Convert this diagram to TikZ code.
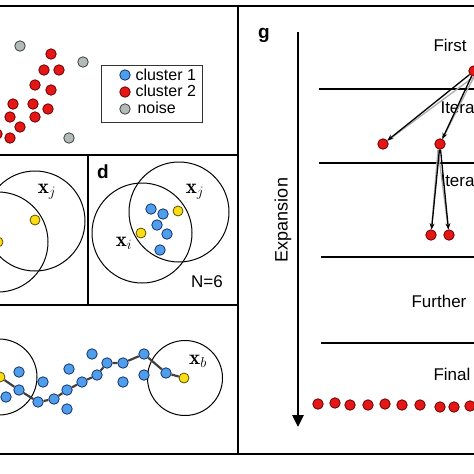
\documentclass[tikz,border=0pt]{standalone}
\usepackage{amsmath,amssymb}
\usepackage{fontspec}
\setsansfont{Liberation Sans}
\usetikzlibrary{arrows.meta,positioning}
\definecolor{redfill}{RGB}{228,22,22}
\definecolor{redline}{RGB}{105,0,0}
\definecolor{bluefill}{RGB}{78,158,236}
\definecolor{blueline}{RGB}{20,48,105}
\definecolor{yelfill}{RGB}{250,222,20}
\definecolor{yelline}{RGB}{95,75,0}
\definecolor{grayfill}{RGB}{178,186,186}
\definecolor{grayline}{RGB}{60,62,62}

\begin{document}
\begin{tikzpicture}[x=1pt,y=-1pt,
  pt/.style={circle,draw,line width=0.8pt,inner sep=0pt,minimum size=10.5pt},
  rpt/.style={pt,fill=redfill,draw=redline},
  bpt/.style={pt,fill=bluefill,draw=blueline},
  ypt/.style={pt,fill=yelfill,draw=yelline,minimum size=10pt},
  gpt/.style={pt,fill=grayfill,draw=grayline},
  frame/.style={line width=1.8pt},
  reach/.style={line width=1pt},
  level/.style={line width=1.4pt},
  lab/.style={font=\sffamily\fontsize{17}{19}\selectfont},
  key/.style={font=\sffamily\fontsize{16}{18}\selectfont},
  tag/.style={font=\sffamily\bfseries\fontsize{19}{21}\selectfont},
  vec/.style={font=\fontsize{21}{23}\selectfont},
  link/.style={-{Stealth[length=6pt,width=5pt]},line width=1.3pt},
  shadow/.style={line width=1.3pt,gray!65}]
\useasboundingbox (0,0) rectangle (474,474);
\clip (0,0) rectangle (474,474);

% panel frames
\draw[frame] (-5,6) -- (238,6) -- (238,454) -- (-5,454);
\draw[frame] (-5,155) -- (238,155);
\draw[frame] (-5,305) -- (238,305);
\draw[frame] (88,155) -- (88,305);
\draw[frame] (480,6) -- (238,6);
\draw[frame] (238,454) -- (480,454);

% top panel
\node[gpt] (n1) at (20,46) {};
\node[gpt] (n2) at (83,62) {};
\node[gpt] (n3) at (69,138) {};
\node[rpt] (r1) at (51,54) {};
\node[rpt] (r2) at (44,70) {};
\node[rpt] (r3) at (59,70) {};
\node[rpt] (r4) at (35,85) {};
\node[rpt] (r5) at (51,90) {};
\node[rpt] (r6) at (13,104) {};
\node[rpt] (r7) at (33,104) {};
\node[rpt] (r8) at (48,109) {};
\node[rpt] (r9) at (10,117) {};
\node[rpt] (r10) at (35,117) {};
\node[rpt] (r11) at (20,127) {};
\node[rpt] (r12) at (10,138) {};
\node[rpt] (r13) at (-3,134) {};

\draw[line width=0.9pt,black!80] (101,65) rectangle (202,122);
\node[bpt] (k1) at (125,75) {};
\node[rpt] (k2) at (125,92) {};
\node[gpt] (k3) at (125,109) {};
\node[key,anchor=west] (t1) at (132,75) {cluster 1};
\node[key,anchor=west] (t2) at (132,91) {cluster 2};
\node[key,anchor=west] (t3) at (134,108) {noise};

% middle left panel
\draw[reach] (35,221) circle (50);
\draw[reach] (-2,242) circle (50);
\node[ypt] (xj1) at (35,220) {};
\node[ypt] (xi1) at (-2,242) {};
\node[vec] (lj1) at (47,192) {$\mathbf{x}_j$};

% panel d
\node[tag] (d) at (103,172) {d};
\draw[reach] (142,233) circle (50);
\draw[reach] (179,212) circle (50);
\node[bpt] (c1) at (151,209) {};
\node[bpt] (c2) at (163,214) {};
\node[bpt] (c3) at (157,225) {};
\node[bpt] (c4) at (167,234) {};
\node[bpt] (c5) at (160,250) {};
\node[ypt] (xj2) at (178,211) {};
\node[ypt] (xi2) at (141,233) {};
\node[vec] (lj2) at (195,192) {$\mathbf{x}_j$};
\node[vec] (li2) at (124,243) {$\mathbf{x}_i$};
\node[lab] (count) at (207,282) {N=6};

% bottom left panel
\draw[reach] (-1,377) circle (38);
\draw[reach] (185,378) circle (37.5);
\node[ypt] (xa) at (0,377) {};
\node[bpt] (p1) at (19,390) {};
\node[bpt] (p2) at (38,402) {};
\node[bpt] (p3) at (54,399) {};
\node[bpt] (p4) at (67,390) {};
\node[bpt] (p5) at (82,382) {};
\node[bpt] (p6) at (97,375) {};
\node[bpt] (p7) at (107,363) {};
\node[bpt] (p8) at (123,363) {};
\node[bpt] (p9) at (144,354) {};
\node[bpt] (p10) at (166,373) {};
\node[ypt] (xb) at (184,378) {};
\node[bpt] (q1) at (19,372) {};
\node[bpt] (q2) at (6,397) {};
\node[bpt] (q3) at (43,382) {};
\node[bpt] (q4) at (69,369) {};
\node[bpt] (q5) at (92,354) {};
\node[bpt] (q6) at (67,409) {};
\node[bpt] (q7) at (123,382) {};
\node[bpt] (q8) at (144,375) {};
\draw[line width=2.2pt,black!75] (xa) -- (p1) -- (p2) -- (p3) -- (p4) -- (p5) -- (p6) -- (p7) -- (p8) -- (p9) -- (p10) -- (xb);
\node[vec] (lb) at (198,361) {$\mathbf{x}_b$};

% panel g
\node[tag] (g) at (264,35) {g};
\coordinate (top) at (298,32);
\coordinate (bot) at (298,427);
\draw[line width=2.8pt,-{Triangle[length=12pt,width=11pt]}] (top) -- (bot);
\node[lab,rotate=90,font=\sffamily\fontsize{18}{20}\selectfont] (exp) at (283,220) {Expansion};

\draw[level] (319,89) -- (480,89);
\draw[level] (319,163) -- (480,163);
\draw[level] (321,257) -- (480,257);
\draw[level] (321,343) -- (480,343);

\node[lab,anchor=west] (s1) at (430,45) {First};
\node[lab,anchor=west] (s2) at (437,108) {Itera};
\node[lab,anchor=west] (s3) at (437,181) {Itera};
\node[lab] (s4) at (439,301) {Further};
\node[lab] (s5) at (452,374) {Final};

\node[rpt] (root) at (474,71) {};
\node[rpt] (a1) at (383,144) {};
\node[rpt] (a2) at (440,144) {};
\node[rpt] (b1) at (431,235) {};
\node[rpt] (b2) at (449,235) {};

\draw[shadow] (root.south) -- (a1);
\draw[shadow] (root.south) -- (a2);
\draw[shadow] ([xshift=-2pt]a2.south) -- (b1);
\draw[shadow] ([xshift=-2pt]a2.south) -- (b2);
\draw[link] (root) -- (a1);
\draw[link] (root) -- (a2);
\draw[link] (a2) -- (b1);
\draw[link] (a2) -- (b2);

\node[rpt] (f1) at (318,404) {};
\node[rpt] (f2) at (335,403) {};
\node[rpt] (f3) at (350,405) {};
\node[rpt] (f4) at (368,405) {};
\node[rpt] (f5) at (385,404) {};
\node[rpt] (f6) at (402,405) {};
\node[rpt] (f7) at (420,405) {};
\node[rpt] (f8) at (440,407) {};
\node[rpt] (f9) at (454,407) {};
\node[rpt] (f10) at (470,406) {};
\end{tikzpicture}
\end{document}
